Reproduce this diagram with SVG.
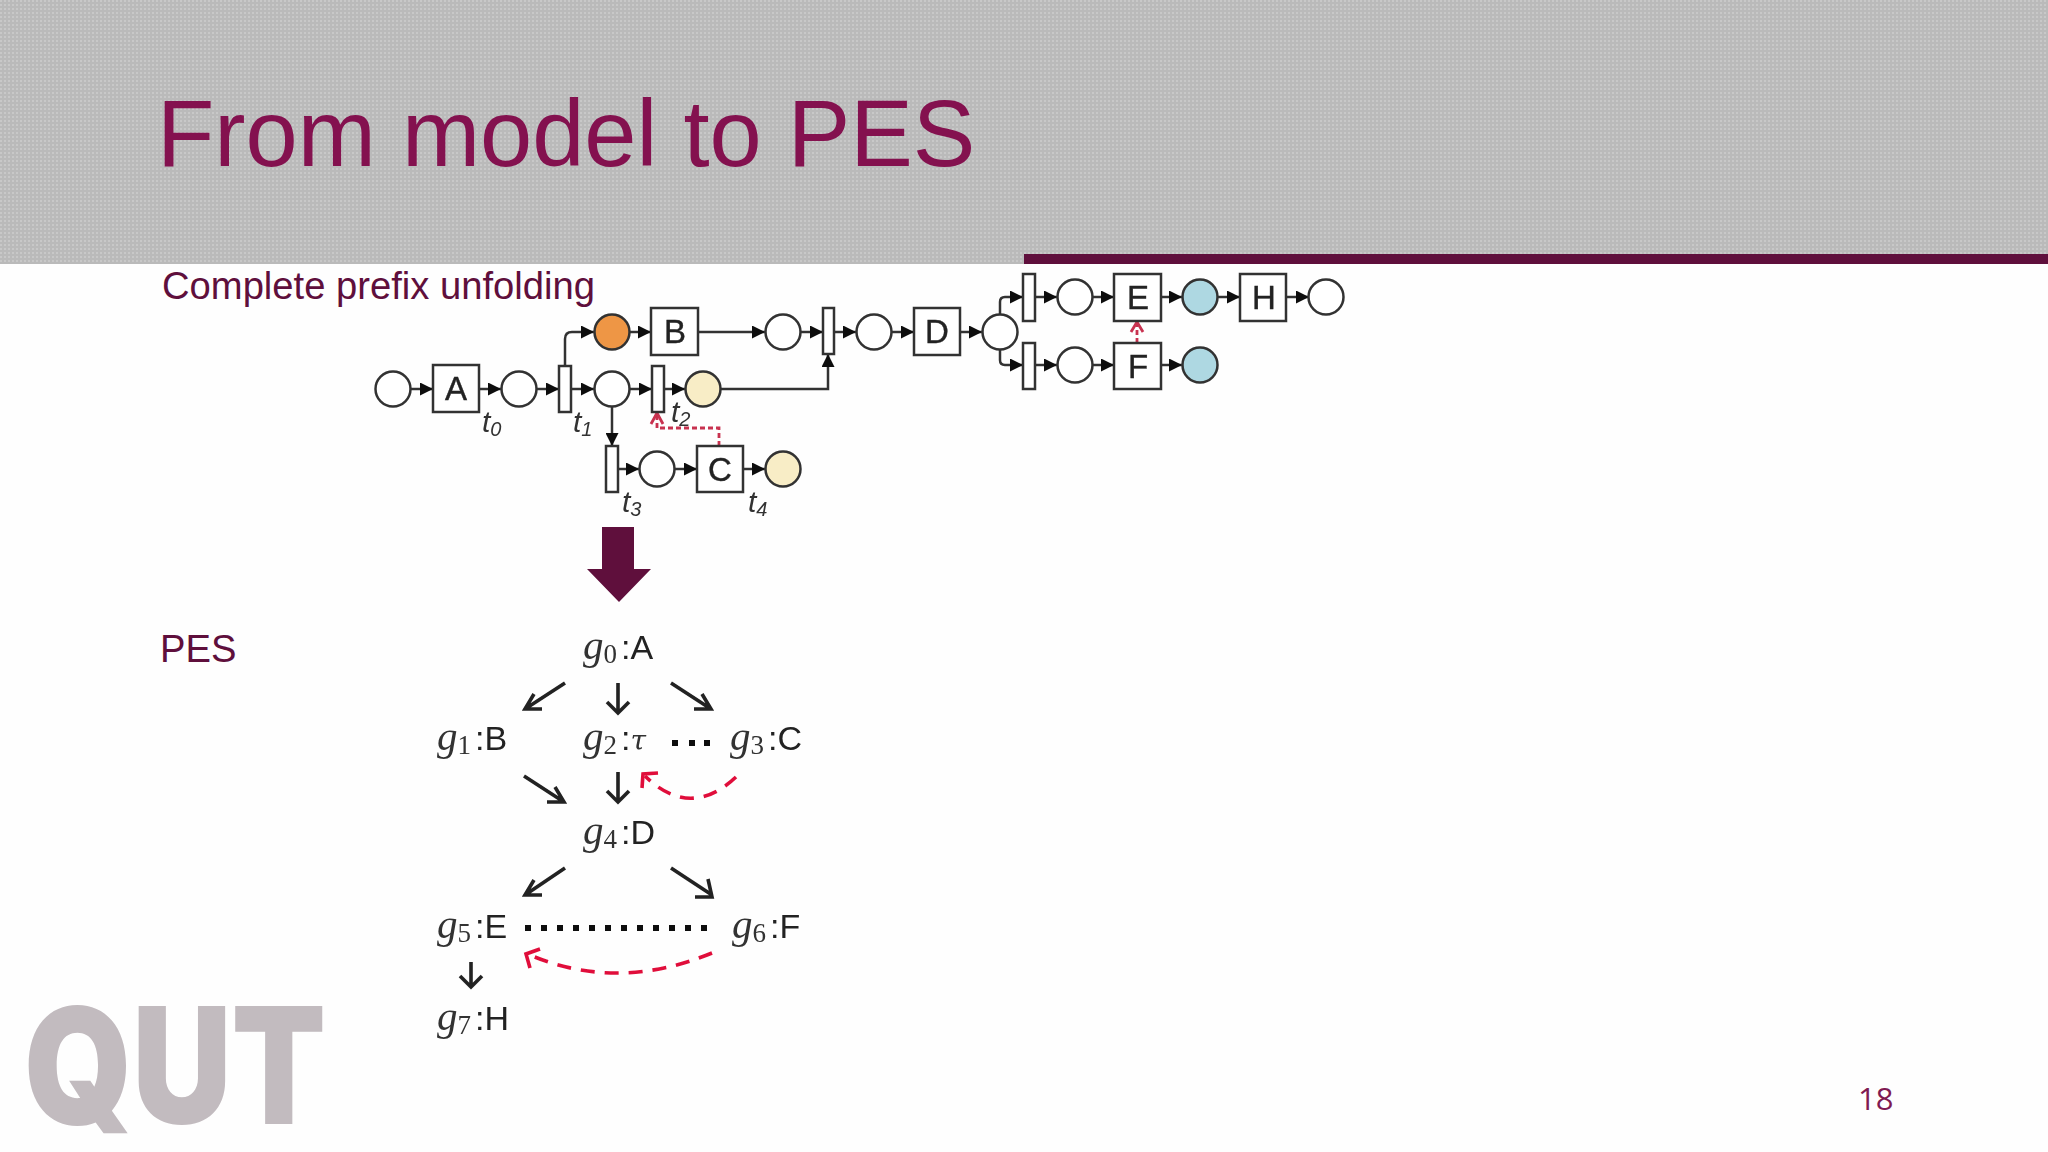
<svg xmlns="http://www.w3.org/2000/svg" width="2048" height="1152" viewBox="0 0 2048 1152">
<style>
.s{font-family:"Liberation Sans",Arial,sans-serif}
.place{fill:#fff;stroke:#333;stroke-width:2.5}
.box{fill:#fff;stroke:#333;stroke-width:2.5}
.lbl{font-family:"Liberation Sans",Arial,sans-serif;font-size:33px;fill:#222;text-anchor:middle;stroke:#222;stroke-width:.4}
.c{fill:none;stroke:#333;stroke-width:2.5}
.t{font-family:"Liberation Sans",Arial,sans-serif;font-style:italic;font-size:30px;fill:#333}
.t tspan{font-size:20px}
.m{font-family:"Liberation Serif",serif;font-size:41px;fill:#333}
.m .g{font-style:italic}
.m .n{font-size:27px}
.m .a{font-family:"Liberation Sans",Arial,sans-serif;font-size:34px;fill:#222}
.e{fill:none;stroke:#222;stroke-width:3.6}
.d{fill:#111}
.r{fill:none;stroke:#e0103a;stroke-width:3.6;stroke-dasharray:14 10}
.hr{fill:none;stroke:#e0103a;stroke-width:3.6}
.dr{fill:none;stroke:#c8304f;stroke-width:2.8;stroke-dasharray:5 3}
.hdr{fill:none;stroke:#c8304f;stroke-width:2.8}
</style>
<defs>
<pattern id="tex" width="4" height="4" patternUnits="userSpaceOnUse">
<rect width="4" height="4" fill="#bababa"/>
<rect width="2" height="2" fill="#c8c8c8"/>
</pattern>
<marker id="ah" viewBox="0 0 13 13" refX="13" refY="6.5" markerWidth="13" markerHeight="13" markerUnits="userSpaceOnUse" orient="auto"><path d="M0 0L13 6.5L0 13Z" fill="#111"/></marker>
<filter id="soft" x="-5%" y="-5%" width="110%" height="110%"><feGaussianBlur stdDeviation="0.6"/></filter>
</defs>
<rect width="2048" height="1152" fill="#fefefe"/>
<g id="header">
<rect width="2048" height="264" fill="url(#tex)"/>
<rect x="1024" y="254" width="1024" height="10" fill="#5f0f3c"/>
<text class="s" x="157" y="166" font-size="93.8" fill="#84114f">From model to PES</text>
</g>
<text id="label-prefix" class="s" x="162" y="299" font-size="38.2" fill="#5f0f3c">Complete prefix unfolding</text>
<text id="label-pes" class="s" x="160" y="662" font-size="38.2" fill="#5f0f3c">PES</text>
<polygon id="big-arrow" points="602,527 634,527 634,569 651,569 619,602 587,569 602,569" fill="#5f0f3c"/>
<g filter="url(#soft)">
<g id="connectors">
<path class="c" marker-end="url(#ah)" d="M411 389H433"/>
<path class="c" marker-end="url(#ah)" d="M479 389H501"/>
<path class="c" marker-end="url(#ah)" d="M537 389H559"/>
<path class="c" marker-end="url(#ah)" d="M571 389H594"/>
<path class="c" marker-end="url(#ah)" d="M630 389H652"/>
<path class="c" marker-end="url(#ah)" d="M664 389H685"/>
<path class="c" marker-end="url(#ah)" d="M565 366V339Q565 332 572 332H594"/>
<path class="c" marker-end="url(#ah)" d="M630 332H651"/>
<path class="c" marker-end="url(#ah)" d="M698 332H765"/>
<path class="c" marker-end="url(#ah)" d="M801 332H823"/>
<path class="c" marker-end="url(#ah)" d="M721 389H828V354"/>
<path class="c" marker-end="url(#ah)" d="M612 407V446"/>
<path class="c" marker-end="url(#ah)" d="M618 469H639"/>
<path class="c" marker-end="url(#ah)" d="M675 469H697"/>
<path class="c" marker-end="url(#ah)" d="M743 469H765"/>
<path class="c" marker-end="url(#ah)" d="M834 332H856"/>
<path class="c" marker-end="url(#ah)" d="M892 332H914"/>
<path class="c" marker-end="url(#ah)" d="M960 332H982"/>
<path class="c" marker-end="url(#ah)" d="M1000 314V302Q1000 297 1005 297H1023"/>
<path class="c" marker-end="url(#ah)" d="M1000 350V360Q1000 365 1005 365H1023"/>
<path class="c" marker-end="url(#ah)" d="M1035 297H1057"/>
<path class="c" marker-end="url(#ah)" d="M1035 365H1057"/>
<path class="c" marker-end="url(#ah)" d="M1093 297H1114"/>
<path class="c" marker-end="url(#ah)" d="M1093 365H1114"/>
<path class="c" marker-end="url(#ah)" d="M1161 297H1182"/>
<path class="c" marker-end="url(#ah)" d="M1161 365H1182"/>
<path class="c" marker-end="url(#ah)" d="M1218 297H1240"/>
<path class="c" marker-end="url(#ah)" d="M1286 297H1309"/>
<path class="dr" d="M719 446V428H657V414"/>
<path class="hdr" d="M651 424L657 413L663 424"/>
<path class="dr" d="M1137 343V323"/>
<path class="hdr" d="M1131 332L1137 322L1143 332"/>
<path class="e" d="M565 683L525 709M542 709H525L534 694"/>
<path class="e" d="M618 683V713M607 702L618 713L629 702"/>
<path class="e" d="M671 683L711 709M694 709H711L702 694"/>
<path class="e" d="M524 776L564 802M547 802H564L555 787"/>
<path class="e" d="M618 772V802M607 791L618 802L629 791"/>
<path class="e" d="M565 868L525 895M542 895H525L534 880"/>
<path class="e" d="M671 868L712 895M695 897H712L708 879"/>
<path class="e" d="M471 962V987M460 976L471 987L482 976"/>
<path class="r" d="M736 777Q690 820 645 776"/>
<path class="hr" d="M642 788L643 774L658 773"/>
<path class="r" d="M712 953Q617 992 530 955"/>
<path class="hr" d="M530 968L526 954L540 949"/>
</g>
<g id="p0"><circle class="place" cx="393" cy="389" r="17.5"/></g>
<g id="A"><rect class="box" x="433" y="365" width="46" height="47"/><text class="lbl" x="456" y="400">A</text></g>
<g id="p1"><circle class="place" cx="519" cy="389" r="17.5"/></g>
<g id="t1"><rect class="box" x="559" y="366" width="12" height="46"/></g>
<g id="p2"><circle class="place" cx="612" cy="389" r="17.5"/></g>
<g id="t2"><rect class="box" x="652" y="366" width="12" height="46"/></g>
<g id="p-yellow1"><circle class="place" cx="703" cy="389" r="17.5" style="fill:#f8edc6"/></g>
<g id="p-orange"><circle class="place" cx="612" cy="332" r="17.5" style="fill:#ee9645"/></g>
<g id="B"><rect class="box" x="651" y="308" width="47" height="47"/><text class="lbl" x="675" y="343">B</text></g>
<g id="p3"><circle class="place" cx="783" cy="332" r="17.5"/></g>
<g id="t5"><rect class="box" x="823" y="308" width="11" height="46"/></g>
<g id="t3"><rect class="box" x="606" y="446" width="12" height="46"/></g>
<g id="p4"><circle class="place" cx="657" cy="469" r="17.5"/></g>
<g id="C"><rect class="box" x="697" y="446" width="46" height="46"/><text class="lbl" x="720" y="481">C</text></g>
<g id="p-yellow2"><circle class="place" cx="783" cy="469" r="17.5" style="fill:#f8edc6"/></g>
<g id="p5"><circle class="place" cx="874" cy="332" r="17.5"/></g>
<g id="D"><rect class="box" x="914" y="308" width="46" height="47"/><text class="lbl" x="937" y="343">D</text></g>
<g id="p6"><circle class="place" cx="1000" cy="332" r="17.5"/></g>
<g id="t6"><rect class="box" x="1023" y="274" width="12" height="47"/></g>
<g id="t7"><rect class="box" x="1023" y="343" width="12" height="46"/></g>
<g id="p7"><circle class="place" cx="1075" cy="297" r="17.5"/></g>
<g id="p8"><circle class="place" cx="1075" cy="365" r="17.5"/></g>
<g id="E"><rect class="box" x="1114" y="274" width="47" height="47"/><text class="lbl" x="1138" y="309">E</text></g>
<g id="F"><rect class="box" x="1114" y="343" width="47" height="46"/><text class="lbl" x="1138" y="378">F</text></g>
<g id="p-blue1"><circle class="place" cx="1200" cy="297" r="17.5" style="fill:#aed8e2"/></g>
<g id="p-blue2"><circle class="place" cx="1200" cy="365" r="17.5" style="fill:#aed8e2"/></g>
<g id="H"><rect class="box" x="1240" y="274" width="46" height="47"/><text class="lbl" x="1264" y="309">H</text></g>
<g id="p9"><circle class="place" cx="1326" cy="297" r="17.5"/></g>
<g id="t-labels">
<text class="t" x="482" y="432">t<tspan dy="4">0</tspan></text>
<text class="t" x="573" y="432">t<tspan dy="4">1</tspan></text>
<text class="t" x="671" y="422">t<tspan dy="4">2</tspan></text>
<text class="t" x="622" y="512">t<tspan dy="4">3</tspan></text>
<text class="t" x="748" y="512">t<tspan dy="4">4</tspan></text>
</g>
<g id="g0"><text class="m" x="583" y="659"><tspan class="g">g</tspan><tspan class="n" dy="4">0</tspan><tspan class="a" dy="-4" dx="4">:A</tspan></text></g>
<g id="g1"><text class="m" x="437" y="750"><tspan class="g">g</tspan><tspan class="n" dy="4">1</tspan><tspan class="a" dy="-4" dx="4">:B</tspan></text></g>
<g id="g2"><text class="m" x="583" y="750"><tspan class="g">g</tspan><tspan class="n" dy="4">2</tspan><tspan class="a" dy="-4" dx="4">:</tspan><tspan class="g" font-family="DejaVu Serif" font-size="28">τ</tspan></text></g>
<g id="g3"><text class="m" x="730" y="750"><tspan class="g">g</tspan><tspan class="n" dy="4">3</tspan><tspan class="a" dy="-4" dx="4">:C</tspan></text></g>
<g id="g4"><text class="m" x="583" y="844"><tspan class="g">g</tspan><tspan class="n" dy="4">4</tspan><tspan class="a" dy="-4" dx="4">:D</tspan></text></g>
<g id="g5"><text class="m" x="437" y="938"><tspan class="g">g</tspan><tspan class="n" dy="4">5</tspan><tspan class="a" dy="-4" dx="4">:E</tspan></text></g>
<g id="g6"><text class="m" x="732" y="938"><tspan class="g">g</tspan><tspan class="n" dy="4">6</tspan><tspan class="a" dy="-4" dx="4">:F</tspan></text></g>
<g id="g7"><text class="m" x="437" y="1030"><tspan class="g">g</tspan><tspan class="n" dy="4">7</tspan><tspan class="a" dy="-4" dx="4">:H</tspan></text></g>
<g id="dots" class="d">
<rect x="672" y="740" width="6" height="6"/><rect x="689" y="740" width="6" height="6"/><rect x="704" y="740" width="6" height="6"/>
<rect x="525" y="925" width="6" height="6"/><rect x="541" y="925" width="6" height="6"/><rect x="557" y="925" width="6" height="6"/><rect x="573" y="925" width="6" height="6"/><rect x="589" y="925" width="6" height="6"/><rect x="605" y="925" width="6" height="6"/><rect x="621" y="925" width="6" height="6"/><rect x="637" y="925" width="6" height="6"/><rect x="653" y="925" width="6" height="6"/><rect x="669" y="925" width="6" height="6"/><rect x="685" y="925" width="6" height="6"/><rect x="701" y="925" width="6" height="6"/>
</g>
</g>
<text id="logo" x="24" y="1124" font-family="Inter,'Liberation Sans',sans-serif" font-weight="900" font-size="162" fill="#c2bbbf" textLength="302" lengthAdjust="spacingAndGlyphs">QUT</text>
<text id="page" x="1858" y="1110" font-family="'Open Sans',sans-serif" font-size="31" fill="#7f1a52">18</text>
</svg>
